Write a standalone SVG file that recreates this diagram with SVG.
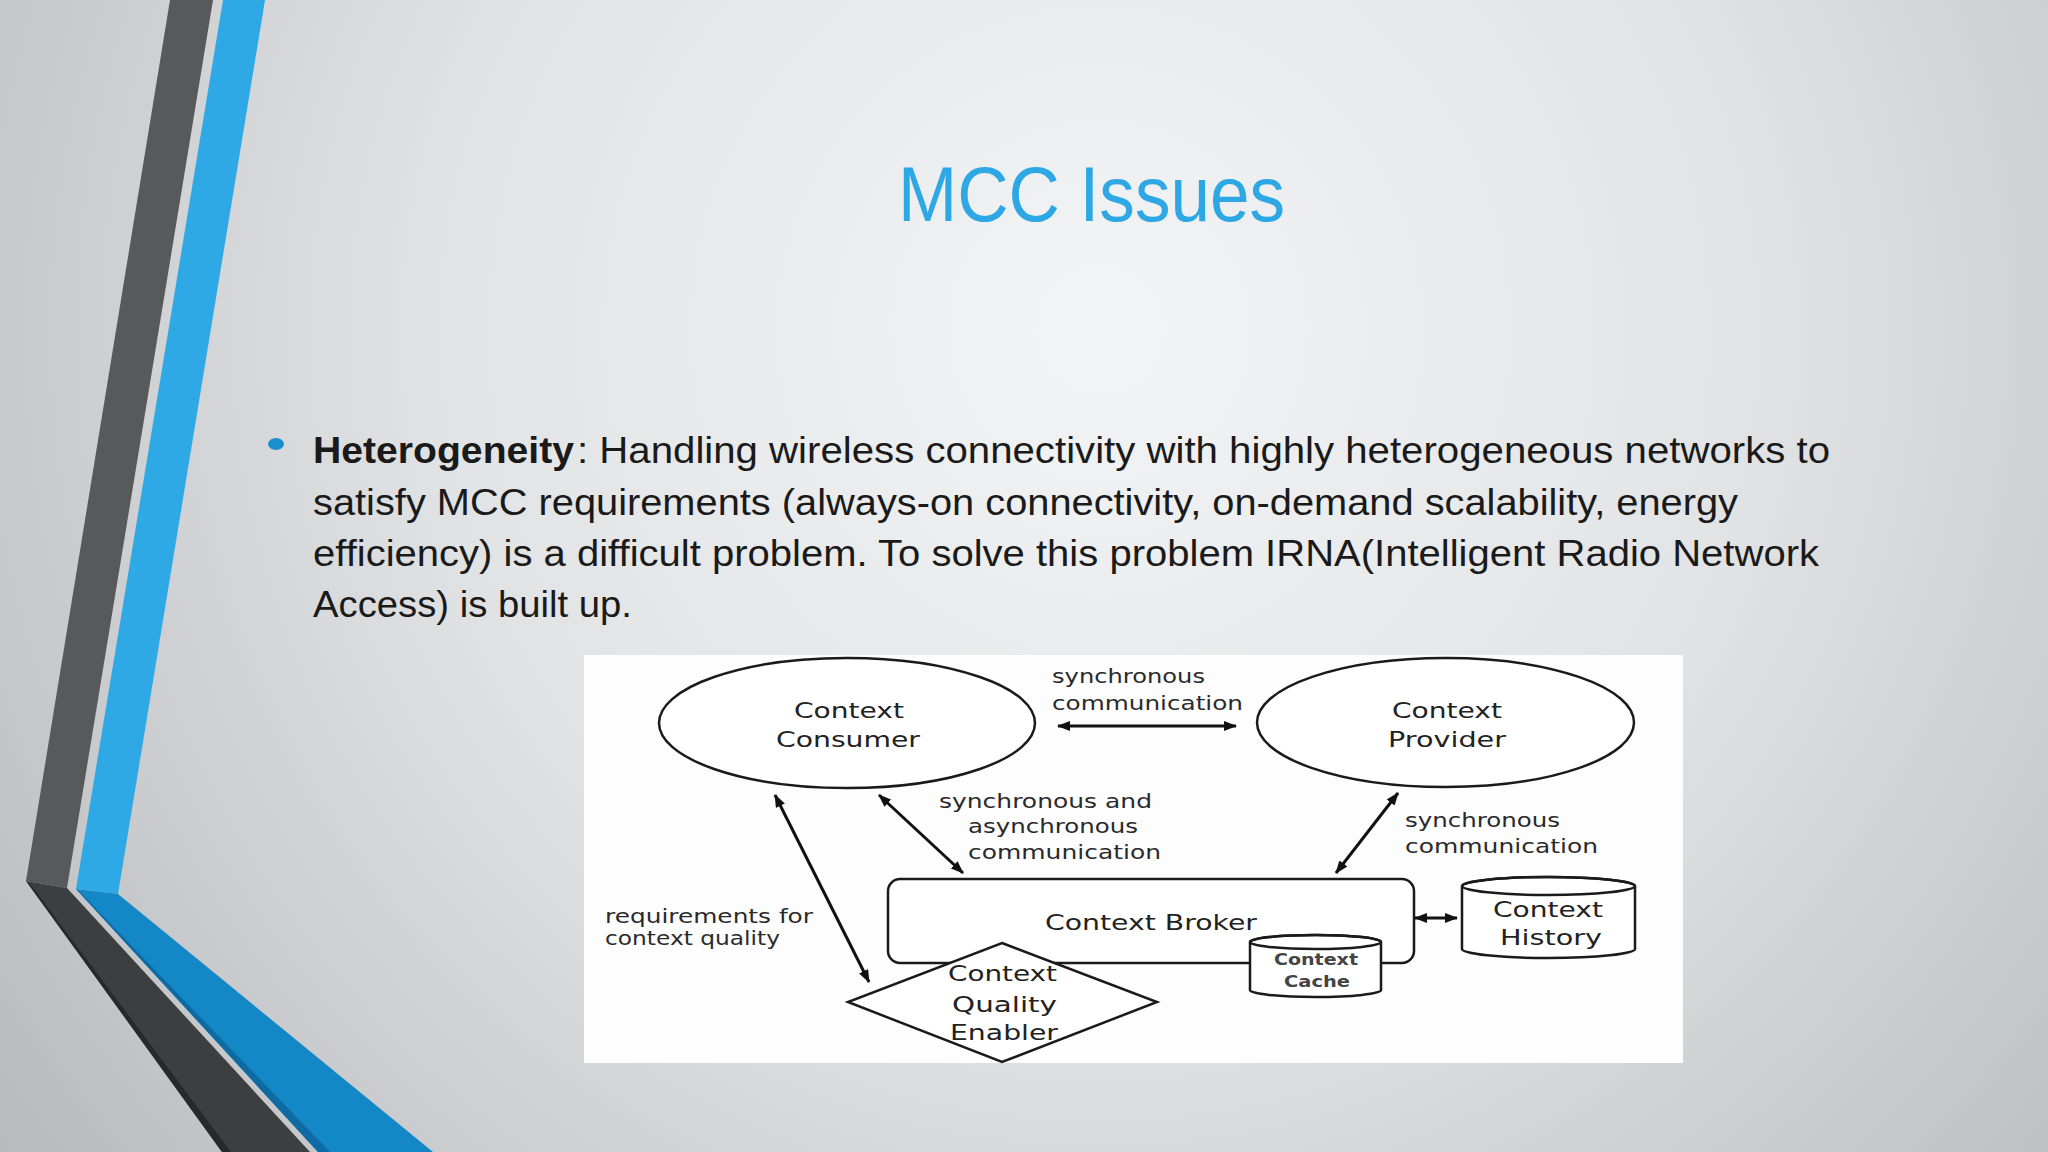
<svg xmlns="http://www.w3.org/2000/svg" width="2048" height="1152" viewBox="0 0 2048 1152">
<defs>
<radialGradient id="bg" cx="1100" cy="330" r="1450" gradientUnits="userSpaceOnUse">
<stop offset="0" stop-color="#f3f4f5"/>
<stop offset="0.45" stop-color="#e1e3e5"/>
<stop offset="1" stop-color="#b3b5b8"/>
</radialGradient>
<marker id="ah" markerWidth="13" markerHeight="10" refX="12" refY="5" orient="auto-start-reverse" markerUnits="userSpaceOnUse">
<path d="M0,0 L13,5 L0,10 z" fill="#111"/>
</marker>
<style>
.lbl{font-family:"DejaVu Sans",Verdana,sans-serif;font-size:20px;fill:#2a2a2a}
.nd{font-family:"DejaVu Sans",Verdana,sans-serif;font-size:21px;fill:#222}
.sm{font-family:"DejaVu Sans",Verdana,sans-serif;font-size:15px;fill:#444;font-weight:bold}
.shape{fill:#fff;stroke:#1a1a1a;stroke-width:2.5}
.conn{stroke:#111;stroke-width:3;fill:none;marker-start:url(#ah);marker-end:url(#ah)}
.body{font-family:"Liberation Sans",Arial,sans-serif;font-size:36px;fill:#1a1a1a}
</style>
</defs>
<rect width="2048" height="1152" fill="url(#bg)"/>
<g id="decor">
<polygon points="170,0 213,0 67,888 26,881" fill="#58595b"/>
<polygon points="26,881 67,888 310,1152 222,1152" fill="#3d3e40"/>
<polygon points="26,881 31,885 231,1152 222,1152" fill="#29292b"/>
<polygon points="223,0 265,0 118,894 76,889" fill="#2fa9e6"/>
<polygon points="76,889 118,894 433,1152 318,1152" fill="#1487c6"/>
<polygon points="76,889 80,892 330,1152 318,1152" fill="#0e6aa2"/>
</g>
<text x="898" y="221" font-family="'Liberation Sans',Arial,sans-serif" font-size="78" fill="#2ea8e5" textLength="387" lengthAdjust="spacingAndGlyphs">MCC Issues</text>
<ellipse cx="276" cy="444" rx="8" ry="6" fill="#1a8fd0"/>
<text class="body" x="313" y="463" font-weight="bold" textLength="261" lengthAdjust="spacingAndGlyphs">Heterogeneity</text>
<text class="body" x="577" y="463" textLength="1253" lengthAdjust="spacingAndGlyphs">: Handling wireless connectivity with highly heterogeneous networks to</text>
<text class="body" x="313" y="515" textLength="1425" lengthAdjust="spacingAndGlyphs">satisfy MCC requirements (always-on connectivity, on-demand scalability, energy</text>
<text class="body" x="313" y="566" textLength="1506" lengthAdjust="spacingAndGlyphs">efficiency) is a difficult problem. To solve this problem IRNA(Intelligent Radio Network</text>
<text class="body" x="313" y="617" textLength="319" lengthAdjust="spacingAndGlyphs">Access) is built up.</text>
<rect x="584" y="655" width="1099" height="408" fill="#fdfdfd"/>
<g id="consumer">
<ellipse class="shape" cx="847" cy="723" rx="188" ry="65"/>
<text class="nd" x="794" y="718" textLength="110" lengthAdjust="spacingAndGlyphs">Context</text>
<text class="nd" x="776" y="747" textLength="144" lengthAdjust="spacingAndGlyphs">Consumer</text>
</g>
<g id="provider">
<ellipse class="shape" cx="1445.5" cy="722.5" rx="188.5" ry="64.5"/>
<text class="nd" x="1392" y="718" textLength="110" lengthAdjust="spacingAndGlyphs">Context</text>
<text class="nd" x="1388" y="747" textLength="118" lengthAdjust="spacingAndGlyphs">Provider</text>
</g>
<g id="broker">
<rect class="shape" x="888" y="879" width="526" height="84" rx="12"/>
<text class="nd" x="1045" y="930" textLength="212" lengthAdjust="spacingAndGlyphs">Context Broker</text>
</g>
<g id="cache">
<path class="shape" d="M1250,942 L1250,990 A65.5,7 0 0 0 1381,990 L1381,942 A65.5,7 0 0 0 1250,942 Z"/>
<ellipse cx="1315.5" cy="942" rx="65.5" ry="7" fill="none" stroke="#1a1a1a" stroke-width="2.5"/>
<text class="sm" x="1274" y="965" textLength="84" lengthAdjust="spacingAndGlyphs">Context</text>
<text class="sm" x="1284" y="987" textLength="66" lengthAdjust="spacingAndGlyphs">Cache</text>
</g>
<g id="history">
<path class="shape" d="M1462,886 L1462,949 A86.5,9 0 0 0 1635,949 L1635,886 A86.5,9 0 0 0 1462,886 Z"/>
<ellipse cx="1548.5" cy="886" rx="86.5" ry="9" fill="none" stroke="#1a1a1a" stroke-width="2.5"/>
<text class="nd" x="1493" y="917" textLength="110" lengthAdjust="spacingAndGlyphs">Context</text>
<text class="nd" x="1500" y="945" textLength="102" lengthAdjust="spacingAndGlyphs">History</text>
</g>
<g id="enabler">
<polygon class="shape" points="1002,943 1157,1002 1002,1062 848,1002"/>
<text class="nd" x="948" y="981" textLength="109" lengthAdjust="spacingAndGlyphs">Context</text>
<text class="nd" x="952" y="1012" textLength="105" lengthAdjust="spacingAndGlyphs">Quality</text>
<text class="nd" x="950" y="1040" textLength="108" lengthAdjust="spacingAndGlyphs">Enabler</text>
</g>
<g id="connectors">
<line class="conn" x1="1058" y1="726" x2="1236" y2="726"/>
<line class="conn" x1="879" y1="795" x2="963" y2="873"/>
<line class="conn" x1="775" y1="795" x2="869" y2="982"/>
<line class="conn" x1="1398" y1="793" x2="1336" y2="873"/>
<line class="conn" x1="1415" y1="918" x2="1457" y2="918"/>
</g>
<g id="labels">
<text class="lbl" x="1052" y="683" textLength="153" lengthAdjust="spacingAndGlyphs">synchronous</text>
<text class="lbl" x="1052" y="710" textLength="191" lengthAdjust="spacingAndGlyphs">communication</text>
<text class="lbl" x="939" y="808" textLength="213" lengthAdjust="spacingAndGlyphs">synchronous and</text>
<text class="lbl" x="968" y="833" textLength="170" lengthAdjust="spacingAndGlyphs">asynchronous</text>
<text class="lbl" x="968" y="859" textLength="193" lengthAdjust="spacingAndGlyphs">communication</text>
<text class="lbl" x="1405" y="827" textLength="155" lengthAdjust="spacingAndGlyphs">synchronous</text>
<text class="lbl" x="1405" y="853" textLength="193" lengthAdjust="spacingAndGlyphs">communication</text>
<text class="lbl" x="605" y="923" textLength="208" lengthAdjust="spacingAndGlyphs">requirements for</text>
<text class="lbl" x="605" y="945" textLength="175" lengthAdjust="spacingAndGlyphs">context quality</text>
</g>
</svg>
